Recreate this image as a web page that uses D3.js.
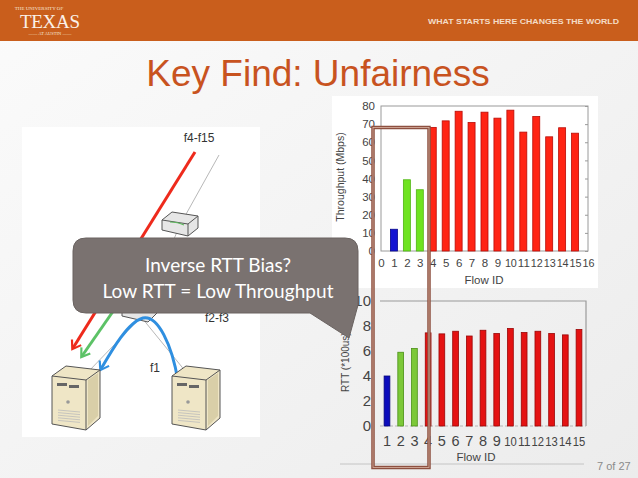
<!DOCTYPE html>
<html>
<head>
<meta charset="utf-8">
<script src="https://cdn.jsdelivr.net/npm/d3@7"></script>
<style>
  body { margin: 0; background: #f3f3f3; }
  svg { display: block; }
</style>
</head>
<body>
<div id="chart-area"></div>
<script>
// flows, and the group each flow belongs to
var flows = [1, 2, 3, 4, 5, 6, 7, 8, 9, 10, 11, 12, 13, 14, 15];
var groups = ["f1", "f2-f3", "f2-f3", "f4-f15", "f4-f15", "f4-f15", "f4-f15", "f4-f15",
              "f4-f15", "f4-f15", "f4-f15", "f4-f15", "f4-f15", "f4-f15", "f4-f15"];
// throughput per flow (Mbps)
var throughput = [12, 39.3, 33.8, 68.2, 71.8, 77.1, 70.9, 76.6, 73.3, 77.7, 65.6, 74.2, 63, 68, 65];
// RTT per flow (*100us)
var rtt = [4.0, 5.9, 6.2, 7.45, 7.37, 7.58, 7.2, 7.66, 7.4, 7.8, 7.48, 7.58, 7.4, 7.29, 7.72];
var tputTicks = [0, 10, 20, 30, 40, 50, 60, 70, 80];
var tputXTicks = [0, 1, 2, 3, 4, 5, 6, 7, 8, 9, 10, 11, 12, 13, 14, 15, 16];
var rttTicks = [0, 2, 4, 6, 8, 10];

var width = 638, height = 478;

var fillTop = { "f1": "#1414d2", "f2-f3": "#6fe320", "f4-f15": "#ff2414" };
var strokeTop = { "f1": "#06068a", "f2-f3": "#4fb512", "f4-f15": "#b80c06" };
var fillBot = { "f1": "#0c0cbc", "f2-f3": "#7cc838", "f4-f15": "#e41212" };
var strokeBot = { "f1": "#04047a", "f2-f3": "#4a9016", "f4-f15": "#9a0606" };

var svg = d3.select("#chart-area").append("svg")
    .attr("width", width)
    .attr("height", height);

// slide background
var defs = svg.append("defs");
var bg = defs.append("linearGradient").attr("id", "bg")
    .attr("x1", 0).attr("y1", 0).attr("x2", 1).attr("y2", 1);
bg.append("stop").attr("offset", 0).attr("stop-color", "#fbfbfb");
bg.append("stop").attr("offset", 1).attr("stop-color", "#ececec");
svg.append("rect").attr("width", width).attr("height", height).attr("fill", "url(#bg)");

// header band
svg.append("rect").attr("width", width).attr("height", 41).attr("fill", "#c95e1c");
svg.append("text").attr("x", 39).attr("y", 10).attr("text-anchor", "middle")
    .attr("font-family", "Liberation Serif").attr("font-size", 5).attr("fill", "#f6e6d8")
    .text("THE UNIVERSITY OF");
svg.append("text").attr("x", 50).attr("y", 27.5).attr("text-anchor", "middle")
    .attr("font-family", "Liberation Serif").attr("font-size", 19).attr("fill", "#fbf1e8")
    .attr("textLength", 60).text("TEXAS");
svg.append("text").attr("x", 50).attr("y", 35).attr("text-anchor", "middle")
    .attr("font-family", "Liberation Serif").attr("font-size", 4.5).attr("fill", "#f6e6d8")
    .text("——  AT AUSTIN  ——");
svg.append("text").attr("x", 428).attr("y", 23.5)
    .attr("font-family", "Liberation Sans").attr("font-weight", "bold")
    .attr("font-size", 8).attr("fill", "#f4dcc6")
    .attr("textLength", 191).attr("lengthAdjust", "spacingAndGlyphs")
    .text("WHAT STARTS HERE CHANGES THE WORLD");

// title
svg.append("text").attr("x", 318).attr("y", 86).attr("text-anchor", "middle")
    .attr("font-family", "Liberation Sans").attr("font-size", 37).attr("fill", "#c8531f")
    .text("Key Find: Unfairness");

// ---------- network diagram ----------
var dia = svg.append("g");
dia.append("rect").attr("x", 22).attr("y", 127).attr("width", 238).attr("height", 310).attr("fill", "#ffffff");

function arrowMarker(id, color) {
  defs.append("marker").attr("id", id)
      .attr("viewBox", "0 0 10 10").attr("refX", 6).attr("refY", 5)
      .attr("markerWidth", 4.5).attr("markerHeight", 4.5)
      .attr("orient", "auto")
    .append("path").attr("d", "M1,1 L7,5 L1,9").attr("fill", "none")
      .attr("stroke", color).attr("stroke-width", 1.6);
}
arrowMarker("arR", "#ee2a1c");
arrowMarker("arG", "#5cc266");
arrowMarker("arB", "#2f8fe0");

// links
dia.append("polyline").attr("points", "219,155 180,225 140,318 88,372")
    .attr("fill", "none").attr("stroke", "#b8b8b8").attr("stroke-width", 1);
dia.append("line").attr("x1", 142).attr("y1", 318).attr("x2", 186).attr("y2", 372)
    .attr("stroke", "#b8b8b8").attr("stroke-width", 1);

// upper switch
var sw = dia.append("g").attr("transform", "translate(180,226)");
sw.append("path").attr("d", "M-18,-6 L-8,-14 L18,-10 L18,2 L8,10 L-18,4 Z")
    .attr("fill", "#e6e6e6").attr("stroke", "#555").attr("stroke-width", 1);
sw.append("path").attr("d", "M-18,-6 L8,-2 L18,-10 M8,-2 L8,10")
    .attr("fill", "none").attr("stroke", "#555").attr("stroke-width", 1);
sw.append("path").attr("d", "M-10,-4 Q-2,-4 4,-1").attr("fill", "none")
    .attr("stroke", "#5cb85c").attr("stroke-width", 1.2);
// lower switch (mostly hidden by the callout)
dia.append("path").attr("d", "M122,304 L150,308 L158,300 L158,312 L148,322 L122,316 Z")
    .attr("fill", "#e6e6e6").attr("stroke", "#555").attr("stroke-width", 1);

// flows
dia.append("line").attr("x1", 195).attr("y1", 152).attr("x2", 73).attr("y2", 348)
    .attr("stroke", "#ee2a1c").attr("stroke-width", 3).attr("marker-end", "url(#arR)");
dia.append("line").attr("x1", 114).attr("y1", 310).attr("x2", 82).attr("y2", 356)
    .attr("stroke", "#5cc266").attr("stroke-width", 3).attr("marker-end", "url(#arG)");
dia.append("path").attr("d", "M178,381 C172,345 158,315 143,318 C128,322 112,350 101,369")
    .attr("fill", "none").attr("stroke", "#2f8fe0").attr("stroke-width", 3)
    .attr("marker-end", "url(#arB)");

// servers
function server(x, y) {
  var g = dia.append("g").attr("transform", "translate(" + x + "," + y + ")");
  g.append("path").attr("d", "M0,10 L14,0 L48,4 L48,52 L34,64 L0,58 Z")
      .attr("fill", "#efe6c6").attr("stroke", "#555").attr("stroke-width", 1);
  g.append("path").attr("d", "M0,10 L34,14 L48,4 M34,14 L34,64")
      .attr("fill", "none").attr("stroke", "#555").attr("stroke-width", 1);
  g.append("path").attr("d", "M36,14 L46,7 L46,50 L36,60 Z").attr("fill", "#d9cfa8");
  g.append("rect").attr("x", 5).attr("y", 17).attr("width", 10).attr("height", 3).attr("fill", "#666");
  g.append("rect").attr("x", 17).attr("y", 19).attr("width", 10).attr("height", 3).attr("fill", "#666");
  g.append("circle").attr("cx", 16).attr("cy", 36).attr("r", 1.8).attr("fill", "#999");
  for (var i = 0; i < 5; i++) {
    g.append("line").attr("x1", 6).attr("x2", 28).attr("y1", 44 + i * 2.6).attr("y2", 46 + i * 2.6)
        .attr("stroke", "#bbb").attr("stroke-width", 0.8);
  }
}
server(52, 366);
server(172, 366);

dia.append("text").attr("x", 199).attr("y", 142).attr("text-anchor", "middle")
    .attr("font-family", "Liberation Sans").attr("font-size", 12).attr("fill", "#333").text("f4-f15");
dia.append("text").attr("x", 155).attr("y", 372).attr("text-anchor", "middle")
    .attr("font-family", "Liberation Sans").attr("font-size", 12).attr("fill", "#333").text("f1");
dia.append("text").attr("x", 217).attr("y", 322).attr("text-anchor", "middle")
    .attr("font-family", "Liberation Sans").attr("font-size", 12).attr("fill", "#333").text("f2-f3");

// ---------- throughput chart ----------
svg.append("rect").attr("x", 332).attr("y", 96).attr("width", 266).attr("height", 192).attr("fill", "#ffffff");

var x1 = d3.scaleLinear().domain([0, 16]).range([381, 588]);
var y1 = d3.scaleLinear().domain([0, 80]).range([251, 106]);
var tputChart = svg.append("g");

tputChart.append("rect").attr("x", 381).attr("y", 106).attr("width", 207).attr("height", 145)
    .attr("fill", "none").attr("stroke", "#9a9a9a").attr("stroke-width", 1);

tputChart.append("g").attr("transform", "translate(381,0)")
    .call(d3.axisLeft(y1).tickValues(tputTicks).tickSize(0).tickPadding(6))
    .call(function(g) { g.select(".domain").remove(); })
    .selectAll("text").attr("font-family", "Liberation Sans").attr("font-size", 11.5).attr("fill", "#444");
tputChart.append("g").attr("transform", "translate(588,0)")
    .call(d3.axisLeft(y1).tickValues(tputTicks).tickSize(3).tickFormat(""))
    .call(function(g) { g.select(".domain").remove(); g.selectAll("line").attr("stroke", "#9a9a9a"); });
tputChart.append("g").attr("transform", "translate(0,251)")
    .call(d3.axisBottom(x1).tickValues(tputXTicks).tickSize(0).tickPadding(8).tickFormat(d3.format("d")))
    .call(function(g) { g.select(".domain").remove(); })
    .selectAll("text").attr("font-family", "Liberation Sans").attr("font-size", 11.5).attr("fill", "#444")
    .attr("textLength", function(d) { return d >= 10 ? 12 : null; })
    .attr("lengthAdjust", "spacingAndGlyphs");

tputChart.selectAll("rect.bar").data(flows).enter().append("rect")
    .attr("class", "bar")
    .attr("x", function(d) { return x1(d) - 3.5; })
    .attr("width", 7)
    .attr("y", function(d, i) { return y1(throughput[i]); })
    .attr("height", function(d, i) { return y1(0) - y1(throughput[i]); })
    .attr("fill", function(d, i) { return fillTop[groups[i]]; })
    .attr("stroke", function(d, i) { return strokeTop[groups[i]]; })
    .attr("stroke-width", 0.8);

tputChart.append("text").attr("x", 484).attr("y", 284).attr("text-anchor", "middle")
    .attr("font-family", "Liberation Sans").attr("font-size", 11.5).attr("fill", "#444").text("Flow ID");
tputChart.append("text").attr("transform", "translate(344,177) rotate(-90)").attr("text-anchor", "middle")
    .attr("font-family", "Liberation Sans").attr("font-size", 10.5).attr("fill", "#444").text("Throughput (Mbps)");

// ---------- RTT chart ----------
var x2 = d3.scaleBand().domain(flows).range([380, 586]).paddingInner(0.58).paddingOuter(0.3);
var y2 = d3.scaleLinear().domain([0, 10]).range([426, 301]);
var rttChart = svg.append("g");

rttChart.append("path").attr("d", "M380,301 H586 V426")
    .attr("fill", "none").attr("stroke", "#9a9a9a").attr("stroke-width", 1.2);
rttChart.append("line").attr("x1", 380).attr("x2", 586).attr("y1", 426).attr("y2", 426)
    .attr("stroke", "#b5b5b5").attr("stroke-dasharray", "3,2");

rttChart.append("g").attr("transform", "translate(380,0)")
    .call(d3.axisLeft(y2).tickValues(rttTicks).tickSize(0).tickPadding(9))
    .call(function(g) { g.select(".domain").remove(); })
    .selectAll("text").attr("font-family", "Liberation Sans").attr("font-size", 15).attr("fill", "#444");
rttChart.append("g").attr("transform", "translate(0,426)")
    .call(d3.axisBottom(x2).tickSize(0).tickPadding(10))
    .call(function(g) { g.select(".domain").remove(); })
    .selectAll("text").attr("font-family", "Liberation Sans").attr("fill", "#444")
    .attr("font-size", function(d) { return d >= 10 ? 12.5 : 14.5; })
    .attr("dy", function(d) { return d >= 10 ? "0.78em" : "0.71em"; })
    .attr("textLength", function(d) { return d >= 10 ? 12.5 : null; })
    .attr("lengthAdjust", "spacingAndGlyphs");

rttChart.selectAll("rect.bar").data(flows).enter().append("rect")
    .attr("class", "bar")
    .attr("x", function(d) { return x2(d); })
    .attr("width", x2.bandwidth())
    .attr("y", function(d, i) { return y2(rtt[i]); })
    .attr("height", function(d, i) { return y2(0) - y2(rtt[i]); })
    .attr("fill", function(d, i) { return fillBot[groups[i]]; })
    .attr("stroke", function(d, i) { return strokeBot[groups[i]]; })
    .attr("stroke-width", 0.8);

rttChart.append("text").attr("x", 476).attr("y", 461).attr("text-anchor", "middle")
    .attr("font-family", "Liberation Sans").attr("font-size", 11.5).attr("fill", "#444").text("Flow ID");
rttChart.append("text").attr("transform", "translate(349,392) rotate(-90)").attr("text-anchor", "start")
    .attr("font-family", "Liberation Sans").attr("font-size", 10).attr("fill", "#444").text("RTT (*100us)");

// footer line and page number
svg.append("line").attr("x1", 340).attr("x2", 584).attr("y1", 464).attr("y2", 464)
    .attr("stroke", "#c4c4c4").attr("stroke-width", 1);
svg.append("text").attr("x", 597).attr("y", 470)
    .attr("font-family", "Liberation Sans").attr("font-size", 11).attr("fill", "#8a8a8a").text("7 of 27");

// highlight box round flows 1-3
svg.append("rect").attr("x", 373).attr("y", 127.5).attr("width", 56).attr("height", 340)
    .attr("fill", "none").attr("stroke", "#8d5040").attr("stroke-width", 3.5);
svg.append("rect").attr("x", 373).attr("y", 127.5).attr("width", 56).attr("height", 340)
    .attr("fill", "none").attr("stroke", "#d9b3a4").attr("stroke-width", 0.8);

// callout
var cx0 = 73, cy0 = 238, cx1 = 358, cy1 = 313, r = 13;
var cp = "M" + (cx0 + r) + "," + cy0 + " H" + (cx1 - r) +
    " Q" + cx1 + "," + cy0 + " " + cx1 + "," + (cy0 + r) +
    " V" + (cy1 - 8) + " L349,338 L310," + cy1 +
    " H" + (cx0 + r) + " Q" + cx0 + "," + cy1 + " " + cx0 + "," + (cy1 - r) +
    " V" + (cy0 + r) + " Q" + cx0 + "," + cy0 + " " + (cx0 + r) + "," + cy0 + " Z";
svg.append("path").attr("d", cp).attr("fill", "#7a7270").attr("stroke", "#6a6361").attr("stroke-width", 1);
svg.append("text").attr("x", 218).attr("y", 272).attr("text-anchor", "middle")
    .attr("font-family", "Lato").attr("font-size", 19).attr("fill", "#ffffff").text("Inverse RTT Bias?");
svg.append("text").attr("x", 218).attr("y", 298).attr("text-anchor", "middle")
    .attr("font-family", "Lato").attr("font-size", 19).attr("fill", "#ffffff")
    .attr("textLength", 231).text("Low RTT = Low Throughput");
</script>
</body>
</html>
